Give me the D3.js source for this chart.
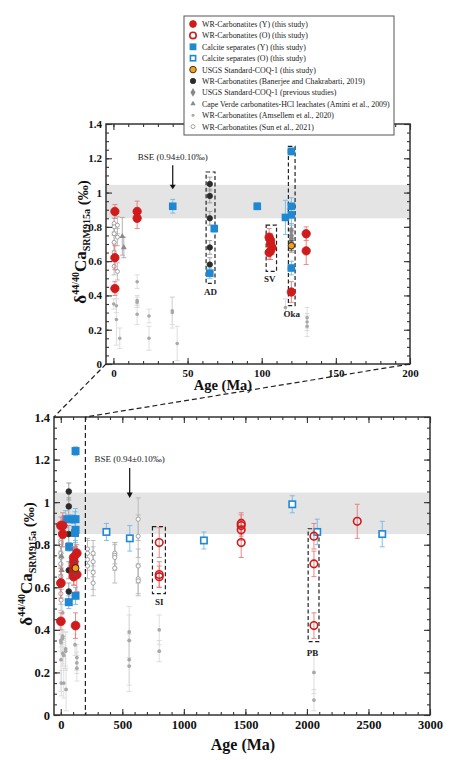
<!DOCTYPE html>
<html>
<head>
<meta charset="utf-8">
<style>
html,body{margin:0;padding:0;background:white;}
svg{display:block;font-family:"Liberation Serif","Times New Roman",serif;}
</style>
</head>
<body>
<div id="chart"></div>
<script src="https://d3js.org/d3.v7.min.js"></script>
<script>
// ---- data (age in Ma, d44/40Ca in permil, 2SD) ----
// WR-Carbonatites (Y) this study
const wrYAge = [1, 1, 1, 16, 16, 105, 106, 106, 107, 106, 105, 120, 130, 130];
const wrYVal = [0.89, 0.62, 0.44, 0.89, 0.85, 0.74, 0.72, 0.70, 0.68, 0.66, 0.65, 0.42, 0.76, 0.66];
const wrYErr = [0.04, 0.07, 0.04, 0.06, 0.06, 0.05, 0.04, 0.05, 0.04, 0.05, 0.04, 0.06, 0.04, 0.08];
// WR-Carbonatites (O) this study
const wrOAge = [800, 800, 800, 1466, 1466, 1466, 1466, 2409, 2057, 2057, 2057];
const wrOVal = [0.81, 0.66, 0.65, 0.90, 0.89, 0.87, 0.81, 0.91, 0.84, 0.71, 0.42];
const wrOErr = [0.07, 0.06, 0.05, 0.05, 0.05, 0.05, 0.07, 0.08, 0.06, 0.06, 0.06];
// Calcite separates (Y)
const calYAge = [40, 65, 68, 97, 116, 120, 120, 120, 120];
const calYVal = [0.92, 0.53, 0.79, 0.92, 0.855, 1.24, 0.92, 0.87, 0.56];
const calYErr = [0.04, 0.03, 0.02, 0.02, 0.10, 0.02, 0.05, 0.06, 0.04];
// Calcite separates (O)
const calOAge = [371, 561, 1163, 1881, 2084, 2612];
const calOVal = [0.86, 0.83, 0.82, 0.99, 0.86, 0.85];
const calOErr = [0.04, 0.06, 0.04, 0.04, 0.06, 0.06];
// USGS COQ-1 this study
const coqAge = [120];
const coqVal = [0.69];
const coqErr = [0.03];
// Banerjee and Chakrabarti 2019
const banAge = [65, 65, 65, 65, 65];
const banVal = [1.05, 0.98, 0.85, 0.68, 0.58];
const banErr = [0.04, 0.04, 0.04, 0.04, 0.04];
// USGS COQ-1 previous studies
const coqPAge = [120, 120, 120, 120, 120];
const coqPVal = [0.78, 0.75, 0.73, 0.71, 0.69];
const coqPErr = [0.04, 0.04, 0.04, 0.04, 0.04];
// Cape Verde HCl leachates (Amini 2009)
const cvAge = [6, 7];
const cvVal = [0.745, 0.68];
const cvErr = [0.11, 0.06];
// Amsellem et al. 2020
const amsAge = [0.2, 2, 2, 4.3, 16, 16, 16, 16, 24, 24, 39.7, 39.7, 43, 116, 130.6, 130.6, 130.6, 556, 556, 556, 556, 800, 800, 2057, 2057];
const amsVal = [0.35, 0.34, 0.26, 0.15, 0.48, 0.37, 0.36, 0.29, 0.28, 0.15, 0.31, 0.30, 0.12, 0.33, 0.27, 0.245, 0.22, 0.39, 0.35, 0.26, 0.23, 0.40, 0.30, 0.20, 0.07];
const amsErr = [0.03, 0.04, 0.15, 0.06, 0.04, 0.03, 0.03, 0.06, 0.04, 0.07, 0.08, 0.09, 0.10, 0.05, 0.06, 0.05, 0.06, 0.12, 0.12, 0.12, 0.12, 0.07, 0.05, 0.10, 0.05];
// Sun et al. 2021
const sunAge = [0.5, 0.5, 0.5, 0.5, 0.5, 0.5, 2.7, 2.7, 2.7, 217, 217, 217, 217, 263, 263, 263, 263, 439, 439, 439, 439, 629, 629, 629, 629, 629];
const sunVal = [0.82, 0.80, 0.76, 0.71, 0.65, 0.57, 0.81, 0.74, 0.54, 0.78, 0.76, 0.73, 0.70, 0.76, 0.72, 0.67, 0.62, 0.76, 0.75, 0.74, 0.69, 0.92, 0.84, 0.70, 0.64, 0.63];
const sunErr = [0.05, 0.05, 0.05, 0.05, 0.05, 0.05, 0.05, 0.05, 0.05, 0.05, 0.06, 0.05, 0.06, 0.06, 0.07, 0.08, 0.06, 0.05, 0.06, 0.06, 0.07, 0.10, 0.10, 0.08, 0.07, 0.07];

// BSE band and groups
const bseBand = [0.85, 1.045];
const upperGroups = [
  {name:"AD", a0:62.5, a1:68.5, v0:0.47, v1:1.12, la:65.5, lv:0.40},
  {name:"SV", a0:103, a1:110, v0:0.54, v1:0.81, la:105.5, lv:0.48},
  {name:"Oka", a0:118, a1:122.5, v0:0.34, v1:1.27, la:120.3, lv:0.275}
];
const lowerGroups = [
  {name:"SI", a0:745, a1:850, v0:0.57, v1:0.885, la:800, lv:0.515},
  {name:"PB", a0:2010, a1:2098, v0:0.345, v1:0.875, la:2045, lv:0.275}
];

const RED = "#cf1b1b", REDBAR = "#e57a7a", BLUE = "#1e88d2", BLUEBAR = "#74b8e8";

const series = [
  {label:"WR-Carbonatites (Y) (this study)", age:wrYAge, val:wrYVal, err:wrYErr, shape:"circle", fill:RED, stroke:RED, r:4.2, bar:REDBAR},
  {label:"WR-Carbonatites (O) (this study)", age:wrOAge, val:wrOVal, err:wrOErr, shape:"ocircle", fill:"none", stroke:RED, r:3.6, bar:REDBAR},
  {label:"Calcite separates (Y) (this study)", age:calYAge, val:calYVal, err:calYErr, shape:"square", fill:BLUE, stroke:BLUE, r:3.8, bar:BLUEBAR},
  {label:"Calcite separates (O) (this study)", age:calOAge, val:calOVal, err:calOErr, shape:"osquare", fill:"none", stroke:BLUE, r:3.8, bar:BLUEBAR},
  {label:"USGS Standard-COQ-1 (this study)", age:coqAge, val:coqVal, err:coqErr, shape:"circle", fill:"#f5a01a", stroke:"#111", r:3.3, bar:"#555"},
  {label:"WR-Carbonatites (Banerjee and Chakrabarti, 2019)", age:banAge, val:banVal, err:banErr, shape:"circle", fill:"#2b2b2b", stroke:"#2b2b2b", r:2.7, bar:"#999"},
  {label:"USGS Standard-COQ-1 (previous studies)", age:coqPAge, val:coqPVal, err:coqPErr, shape:"diamond", fill:"#888", stroke:"#888", r:2.4, bar:"#aaa"},
  {label:"Cape Verde carbonatites-HCl leachates (Amini et al., 2009)", age:cvAge, val:cvVal, err:cvErr, shape:"triangle", fill:"#8a8a8a", stroke:"#8a8a8a", r:2.0, bar:"#aaa"},
  {label:"WR-Carbonatites (Amsellem et al., 2020)", age:amsAge, val:amsVal, err:amsErr, shape:"dot", fill:"#a8a8a8", stroke:"none", r:1.8, bar:"#dadada"},
  {label:"WR-Carbonatites (Sun et al., 2021)", age:sunAge, val:sunVal, err:sunErr, shape:"ocircle", fill:"white", stroke:"#999", r:2.0, bar:"#b8b8b8", sw:0.9}
];
const drawOrder = [8, 9, 7, 6, 5, 2, 3, 0, 1, 4];

const W = 458, H = 760;
const svg = d3.select("#chart").append("svg").attr("width", W).attr("height", H);

const panels = [
  {id:"up", left:106, right:410, top:124, bottom:364, xdom:[-5, 200], xticks:[0, 50, 100, 150, 200], xminor:10,
   fs:11, ms:1.0, groups:upperGroups, bseAge:40, titleX:86, titleY:242, xTitleY:390, xTitleX:223},
  {id:"low", left:54, right:430, top:417, bottom:715, xdom:[-55, 3000], xticks:[0, 500, 1000, 1500, 2000, 2500, 3000], xminor:100,
   fs:12.5, ms:1.05, groups:lowerGroups, bseAge:560, titleX:32, titleY:564, xTitleY:750, xTitleX:243}
];

function marker(g, s, cx, cy, k) {
  const r = s.r * k;
  if (s.shape === "circle" || s.shape === "dot") {
    g.append("circle").attr("cx", cx).attr("cy", cy).attr("r", r)
      .attr("fill", s.fill).attr("stroke", s.stroke).attr("stroke-width", s.shape === "dot" ? 0 : 0.8);
  } else if (s.shape === "ocircle") {
    g.append("circle").attr("cx", cx).attr("cy", cy).attr("r", r)
      .attr("fill", s.fill).attr("stroke", s.stroke).attr("stroke-width", s.sw || 1.6);
  } else if (s.shape === "square") {
    g.append("rect").attr("x", cx - r).attr("y", cy - r).attr("width", 2 * r).attr("height", 2 * r)
      .attr("fill", s.fill);
  } else if (s.shape === "osquare") {
    g.append("rect").attr("x", cx - r + 0.8).attr("y", cy - r + 0.8).attr("width", 2 * r - 1.6).attr("height", 2 * r - 1.6)
      .attr("fill", "white").attr("stroke", s.stroke).attr("stroke-width", 1.6);
  } else {
    const sym = s.shape === "diamond" ? d3.symbolDiamond : d3.symbolTriangle;
    g.append("path").attr("d", d3.symbol().type(sym).size(Math.PI * r * r * 1.2)())
      .attr("transform", `translate(${cx},${cy})`).attr("fill", s.fill);
  }
}

panels.forEach(p => {
  const x = d3.scaleLinear().domain(p.xdom).range([p.left, p.right]);
  const y = d3.scaleLinear().domain([0, 1.4]).range([p.bottom, p.top]);
  p.x = x; p.y = y;
  const g = svg.append("g");

  svg.append("clipPath").attr("id", "clip-" + p.id).append("rect")
    .attr("x", p.left).attr("y", p.top).attr("width", p.right - p.left).attr("height", p.bottom - p.top);

  // BSE band
  g.append("rect").attr("x", p.left).attr("width", p.right - p.left)
    .attr("y", y(bseBand[1])).attr("height", y(bseBand[0]) - y(bseBand[1])).attr("fill", "#e4e4e4");

  const plot = g.append("g").attr("clip-path", `url(#clip-${p.id})`);

  // group boxes
  p.groups.forEach(b => {
    plot.append("rect").attr("x", x(b.a0)).attr("y", y(b.v1))
      .attr("width", x(b.a1) - x(b.a0)).attr("height", y(b.v0) - y(b.v1))
      .attr("fill", "none").attr("stroke", "#222").attr("stroke-width", 1.2).attr("stroke-dasharray", "4,2.5");
    g.append("text").attr("x", x(b.la)).attr("y", y(b.lv)).attr("text-anchor", "middle")
      .attr("font-size", 9).attr("font-weight", "bold").attr("fill", "#222").text(b.name);
  });

  // points
  drawOrder.forEach(i => {
    const s = series[i];
    s.age.forEach((a, j) => {
      if (a < p.xdom[0] || a > p.xdom[1]) return;
      const cx = x(a), v = s.val[j], e = s.err[j];
      const eb = plot.append("g").attr("stroke", s.bar).attr("stroke-width", 0.9);
      eb.append("line").attr("x1", cx).attr("x2", cx).attr("y1", y(v - e)).attr("y2", y(v + e));
      eb.append("line").attr("x1", cx - 2.5).attr("x2", cx + 2.5).attr("y1", y(v - e)).attr("y2", y(v - e));
      eb.append("line").attr("x1", cx - 2.5).attr("x2", cx + 2.5).attr("y1", y(v + e)).attr("y2", y(v + e));
    });
    s.age.forEach((a, j) => {
      if (a < p.xdom[0] || a > p.xdom[1]) return;
      marker(plot, s, x(a), y(s.val[j]), p.ms);
    });
  });

  // BSE annotation
  g.append("text").attr("x", x(p.bseAge)).attr("y", y(1.19)).attr("text-anchor", "middle")
    .attr("font-size", 9).attr("fill", "#222").text("BSE (0.94±0.10‰)");
  g.append("line").attr("x1", x(p.bseAge)).attr("x2", x(p.bseAge)).attr("y1", y(1.16)).attr("y2", y(1.035))
    .attr("stroke", "#111").attr("stroke-width", 1.2);
  g.append("path").attr("d", `M${x(p.bseAge) - 3},${y(1.045)} L${x(p.bseAge) + 3},${y(1.045)} L${x(p.bseAge)},${y(1.02)} Z`)
    .attr("fill", "#111");

  // axes with inward ticks on all sides
  const yMajor = d3.range(0, 1.41, 0.2), yMinor = d3.range(0, 1.401, 0.05);
  const xMinor = d3.range(0, p.xdom[1] + 0.1, p.xminor);
  const fmtY = d => String(Math.round(d * 10) / 10);
  const axes = [
    [d3.axisBottom(x).tickValues(xMinor).tickFormat("").tickSize(-3), `translate(0,${p.bottom})`],
    [d3.axisBottom(x).tickValues(p.xticks).tickSize(-6).tickPadding(5).tickFormat(d3.format("d")), `translate(0,${p.bottom})`],
    [d3.axisTop(x).tickValues(xMinor).tickFormat("").tickSize(-3), `translate(0,${p.top})`],
    [d3.axisTop(x).tickValues(p.xticks).tickFormat("").tickSize(-6), `translate(0,${p.top})`],
    [d3.axisLeft(y).tickValues(yMinor).tickFormat("").tickSize(-3), `translate(${p.left},0)`],
    [d3.axisLeft(y).tickValues(yMajor).tickSize(-6).tickPadding(4).tickFormat(fmtY), `translate(${p.left},0)`],
    [d3.axisRight(y).tickValues(yMinor).tickFormat("").tickSize(-3), `translate(${p.right},0)`],
    [d3.axisRight(y).tickValues(yMajor).tickFormat("").tickSize(-6), `translate(${p.right},0)`]
  ];
  axes.forEach(([ax, tr]) => {
    const a = g.append("g").attr("transform", tr).call(ax);
    a.select(".domain").remove();
    a.selectAll("line").attr("stroke", "#333").attr("stroke-width", 1.1);
    a.selectAll("text").attr("font-family", "Liberation Serif, serif").attr("font-weight", "bold")
      .attr("font-size", p.fs).attr("fill", "#111");
  });

  g.append("rect").attr("x", p.left).attr("y", p.top).attr("width", p.right - p.left).attr("height", p.bottom - p.top)
    .attr("fill", "none").attr("stroke", "#333").attr("stroke-width", 1.5);

  // axis titles
  g.append("text").attr("x", p.xTitleX).attr("y", p.xTitleY).attr("text-anchor", "middle")
    .attr("font-size", p.fs + 3.5).attr("font-weight", "bold").attr("fill", "#111").text("Age (Ma)");
  const t = g.append("text").attr("transform", `translate(${p.titleX},${p.titleY}) rotate(-90)`)
    .attr("text-anchor", "middle").attr("font-weight", "bold").attr("fill", "#111");
  t.append("tspan").attr("font-size", 17).text("δ");
  t.append("tspan").attr("font-size", 10).attr("dy", -7).text("44/40");
  t.append("tspan").attr("font-size", 17).attr("dy", 7).text("Ca");
  t.append("tspan").attr("font-size", 10).attr("dy", 4).text("SRM915a");
  t.append("tspan").attr("font-size", 15).attr("dy", -2).text(" (‰)");
});

// zoom connectors
const up = panels[0], low = panels[1];
const dash = {stroke:"#222", "stroke-width":1.2, "stroke-dasharray":"5,3"};
function dline(x1, y1, x2, y2) {
  const l = svg.append("line").attr("x1", x1).attr("y1", y1).attr("x2", x2).attr("y2", y2);
  Object.entries(dash).forEach(([k, v]) => l.attr(k, v));
}
dline(up.left, up.bottom, low.left, low.top);
dline(up.right, up.bottom, low.x(200), low.top);
dline(low.x(200), low.top, low.x(200), low.bottom);

// legend
const lg = svg.append("g").attr("transform", "translate(184,16)");
lg.append("rect").attr("width", 210).attr("height", 119).attr("fill", "white").attr("stroke", "#555").attr("stroke-width", 1);
series.forEach((s, i) => {
  const cy = 8 + i * 11.4;
  const ms = Object.assign({}, s);
  if (s.shape === "dot") ms.r = 1.5;
  if (s.shape === "circle" && i === 0) ms.r = 3.4;
  if (s.shape === "ocircle" && i === 1) ms.r = 3.2;
  if (s.shape === "square" || s.shape === "osquare") ms.r = 3.4;
  if (s.shape === "triangle") ms.r = 1.8;
  marker(lg, ms, 9, cy, 1);
  lg.append("text").attr("x", 18).attr("y", cy + 3).attr("font-size", 7.9).attr("fill", "#222").text(s.label);
});
</script>
</body>
</html>
